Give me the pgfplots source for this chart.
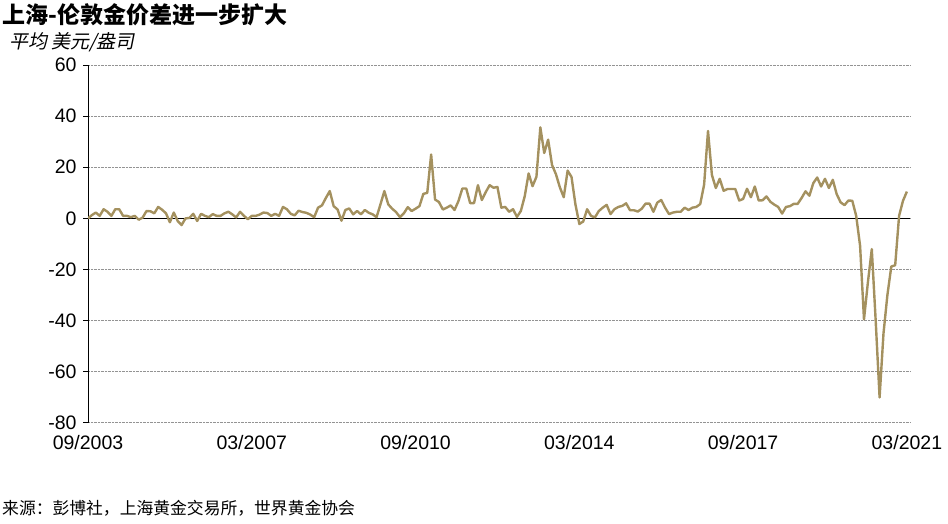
\documentclass[border=0pt]{standalone}
\usepackage{fontspec}
\setmainfont{Liberation Sans}
\newfontfamily\cjk{Noto Sans CJK SC}
\newfontfamily\cjkit[FakeSlant=0.2]{Noto Sans CJK SC}
\usepackage{pgfplots}
\pgfplotsset{compat=1.18}
\definecolor{gold}{RGB}{164,145,95}
\pgfplotstableread{
x y
0 0
1 1.3
2 2.3
3 1
4 3.6
5 2.6
6 1
7 3.6
8 3.6
9 1
10 1
11 0.5
12 1
13 -0.5
14 0.3
15 2.9
16 2.8
17 2
18 4.5
19 3.4
20 2
21 -1.5
22 2.3
23 -1
24 -2.6
25 0
26 0.2
27 1.8
28 -1
29 1.8
30 1
31 0.5
32 1.7
33 1
34 1
35 2
36 2.6
37 1.6
38 0.4
39 2.6
40 1
41 -0.3
42 1
43 1
44 1.5
45 2.3
46 2.1
47 1
48 1.8
49 1
50 4.5
51 3.6
52 1.8
53 1.2
54 3
55 2.5
56 2.2
57 1.5
58 0.5
59 4.2
60 5.1
61 8
62 10.7
63 4.8
64 3.5
65 -0.9
66 3.3
67 3.9
68 1.6
69 2.9
70 1.6
71 3.3
72 2.2
73 1.6
74 0.5
75 5.5
76 10.7
77 5.5
78 3.8
79 2.5
80 0.5
81 2
82 4.4
83 2.9
84 3.8
85 4.8
86 9.6
87 10
88 25
89 7.4
90 6.4
91 3.5
92 4.2
93 5.1
94 3.3
95 6.8
96 11.7
97 11.7
98 6
99 6
100 13
101 7.2
102 10.3
103 13
104 12
105 12.3
106 4.2
107 4.5
108 2.6
109 3.6
110 0.6
111 2.9
112 8.7
113 17.6
114 12.6
115 16.3
116 35.6
117 25.6
118 30.8
119 20.9
120 17.3
121 12.2
122 8.3
123 18.7
124 16.2
125 5.5
126 -2.2
127 -1.2
128 3.6
129 1
130 0.4
131 2.9
132 4.2
133 5.3
134 1.7
135 3.6
136 4.5
137 4.9
138 5.9
139 3.2
140 3.2
141 2.7
142 3.8
143 5.8
144 5.8
145 2.6
146 6.2
147 7.2
148 4.2
149 1.7
150 2.3
151 2.6
152 2.6
153 4.2
154 3.3
155 4.2
156 4.5
157 5.6
158 13.2
159 34.2
160 17
161 11.9
162 15.5
163 10.8
164 11.5
165 11.5
166 11.5
167 7
168 7.6
169 11.6
170 8.3
171 12.5
172 7
173 7.1
174 8.6
175 6.5
176 5.4
177 4.5
178 1.9
179 4.5
180 4.8
181 5.7
182 5.7
183 8
184 10.6
185 8.9
186 13.8
187 16
188 12.5
189 15.5
190 11.9
191 15.1
192 9.5
193 6.3
194 5.2
195 7
196 6.9
197 1
198 -10.7
199 -39.5
200 -25
201 -12
202 -40
203 -70
204 -45
205 -30
206 -18.8
207 -18.3
208 1
209 6.9
210 10.5
}\spread
\begin{document}
\begin{tikzpicture}[x=1pt,y=1pt]
\path (0,0) rectangle (948,524);
\node[anchor=north west, inner sep=0pt] at (2,521) {\cjk\bfseries\fontsize{23}{23}\selectfont 上海-伦敦金价差进一步扩大};
\node[anchor=north west, inner sep=0pt] at (9,492) {\cjkit\fontsize{19}{19}\selectfont 平均 美元/盎司};
\node[anchor=west, inner sep=0pt] at (2,15.5) {\cjk\fontsize{16.8}{16.8}\selectfont 来源：彭博社，上海黄金交易所，世界黄金协会};
\begin{axis}[
  at={(88pt,101pt)}, anchor=south west,
  scale only axis, width=822pt, height=358pt,
  xmin=0, xmax=210.8, ymin=-80, ymax=60,
  separate axis lines,
  axis x line*=bottom, axis y line*=left,
  x axis line style={draw=none},
  y axis line style={black, line width=1pt},
  xtick={0,42,84,126,168,210},
  xticklabels={09/2003,03/2007,09/2010,03/2014,09/2017,03/2021},
  xtick style={draw=none},
  ytick={-80,-60,...,60},
  ytick style={black, line width=1pt},
  tick align=outside, major tick length=5pt,
  ymajorgrids,
  major grid style={draw=gray!85, densely dotted, line width=1pt},
  tick label style={font=\fontsize{19.5}{19.5}\selectfont},
  /pgf/number format/assume math mode=true,
  yticklabel style={xshift=-3pt},
  xticklabel style={yshift=-4pt},
]
\draw[black, line width=1pt] (axis cs:0,0) -- (axis cs:210.8,0);
\pgfplotsinvokeforeach{42,84,126,168,210}{
  \draw[black, line width=1pt] (axis cs:#1,0) ++(0,-5pt) -- ++(0,10pt);
}
\addplot[gold, line width=2.4pt, line join=round, no marks] table[x=x,y=y] {\spread};
\end{axis}
\end{tikzpicture}
\end{document}
